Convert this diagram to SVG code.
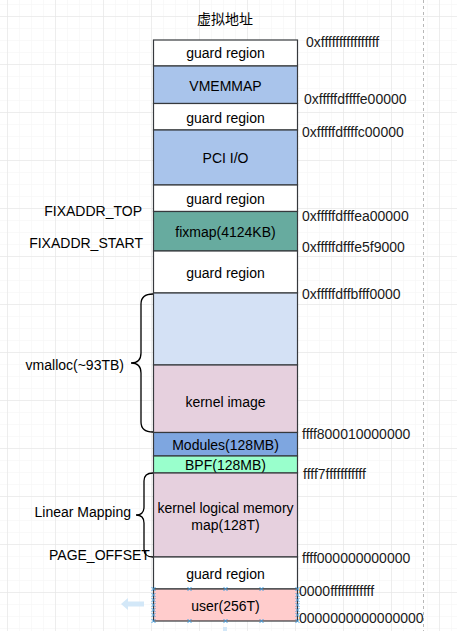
<svg xmlns="http://www.w3.org/2000/svg" width="457" height="631" viewBox="0 0 457 631">
<style>
.box{stroke:#36393d;stroke-width:1.2}
.t{font-family:"Liberation Sans",Arial,sans-serif;font-size:14px;fill:#000}
.c{text-anchor:middle}
.r{text-anchor:end}
.addr{font-family:"Liberation Sans",Arial,sans-serif;font-size:14px;fill:#1a1a1a}
.brace{fill:none;stroke:#000;stroke-width:1.3}
.sel{stroke:#3aa0e8;stroke-width:1;fill:none}
</style>
<defs>
<pattern id="gMinor" width="12" height="12" x="7" y="4" patternUnits="userSpaceOnUse">
<path d="M0,0 H12 M0,0 V12" stroke="#f3f3f3" stroke-width="1" fill="none"/>
</pattern>
<pattern id="gMajor" width="48" height="48" x="7" y="16" patternUnits="userSpaceOnUse">
<path d="M0,0 H48 M0,0 V48" stroke="#e2e2e2" stroke-width="1" fill="none"/>
</pattern>
<g id="xm"><path d="M-2,-2 L2,2 M-2,2 L2,-2" class="sel"/></g>
</defs>
<rect width="457" height="631" fill="#ffffff"/>
<rect width="457" height="631" fill="url(#gMinor)"/>
<rect width="457" height="631" fill="url(#gMajor)"/>
<line x1="423.5" y1="0" x2="423.5" y2="631" stroke="#b8b8b8" stroke-dasharray="3 3"/>

<text class="t c" x="225" y="24" style="font-family:'Liberation Sans','Noto Sans CJK SC',sans-serif">虚拟地址</text>

<g id="n-guard1"><rect class="box" x="153.5" y="40" width="144" height="26" fill="#ffffff"/><text class="t c" x="225.5" y="58">guard region</text></g>
<g id="n-vmemmap"><rect class="box" x="153.5" y="66" width="144" height="37.5" fill="#a9c4eb"/><text class="t c" x="225.5" y="91">VMEMMAP</text></g>
<g id="n-guard2"><rect class="box" x="153.5" y="103.5" width="144" height="26.5" fill="#ffffff"/><text class="t c" x="225.5" y="123">guard region</text></g>
<g id="n-pci"><rect class="box" x="153.5" y="130" width="144" height="55" fill="#a9c4eb"/><text class="t c" x="225.5" y="163">PCI I/O</text></g>
<g id="n-guard3"><rect class="box" x="153.5" y="185" width="144" height="26.5" fill="#ffffff"/><text class="t c" x="225.5" y="204">guard region</text></g>
<g id="n-fixmap"><rect class="box" x="153.5" y="211.5" width="144" height="39.5" fill="#67ab9f"/><text class="t c" x="225.5" y="236.5">fixmap(4124KB)</text></g>
<g id="n-guard4"><rect class="box" x="153.5" y="251" width="144" height="42" fill="#ffffff"/><text class="t c" x="225.5" y="278">guard region</text></g>
<g id="n-vmalloc"><rect class="box" x="153.5" y="293" width="144" height="72" fill="#d4e1f5"/></g>
<g id="n-kimage"><rect class="box" x="153.5" y="365" width="144" height="67.5" fill="#e6d0de"/><text class="t c" x="225.5" y="407">kernel image</text></g>
<g id="n-modules"><rect class="box" x="153.5" y="432.5" width="144" height="23.5" fill="#7ea6e0"/><text class="t c" x="225.5" y="450">Modules(128MB)</text></g>
<g id="n-bpf"><rect class="box" x="153.5" y="456" width="144" height="17" fill="#99ffcc"/><text class="t c" x="225.5" y="470">BPF(128MB)</text></g>
<g id="n-linear"><rect class="box" x="153.5" y="473" width="144" height="84" fill="#e6d0de"/><text class="t c" x="225.5" y="512.5">kernel logical memory</text><text class="t c" x="225.5" y="530">map(128T)</text></g>
<g id="n-guard5"><rect class="box" x="153.5" y="557" width="144" height="32" fill="#ffffff"/><text class="t c" x="225.5" y="579">guard region</text></g>
<g id="n-user"><rect class="box" x="153.5" y="589" width="144" height="32" fill="#ffcccc"/><text class="t c" x="225.5" y="611">user(256T)</text></g>

<g id="addresses">
<text class="addr" x="306" y="47">0xffffffffffffffff</text>
<text class="addr" x="304" y="104" fill="#555">0xfffffdffffe00000</text>
<text class="addr" x="302" y="136.5">0xfffffdffffc00000</text>
<text class="addr" x="302" y="221">0xfffffdfffea00000</text>
<text class="addr" x="302" y="252">0xfffffdfffe5f9000</text>
<text class="addr" x="302" y="299">0xfffffdffbfff0000</text>
<text class="addr" x="302" y="439">ffff800010000000</text>
<text class="addr" x="303" y="479">ffff7fffffffffff</text>
<text class="addr" x="302" y="563">ffff000000000000</text>
<text class="addr" x="299" y="595.5">0000ffffffffffff</text>
<text class="addr" x="299" y="623">0000000000000000</text>
</g>

<g id="left-labels">
<text class="t r" x="142" y="216">FIXADDR_TOP</text>
<text class="t r" x="143" y="248">FIXADDR_START</text>
<text class="t r" x="124" y="370">vmalloc(~93TB)</text>
<text class="t r" x="131" y="517">Linear Mapping</text>
<text class="t" x="49" y="560">PAGE_OFFSET</text>
</g>

<g id="connectors">
<path class="brace" d="M153,294 Q141,294 141,304 L141,353 Q141,363 131,363 Q141,363 141,373 L141,422 Q141,432 153,432"/>
<path class="brace" d="M153,473 Q144,473 144,481 L144,507 Q144,515 136,515 Q144,515 144,523 L144,549 Q144,557 153,557"/>
</g>

<g id="selection" opacity="0.9">
<path d="M121,604 L128,598 L128,601.5 L144,601.5 L144,606.5 L128,606.5 L128,610 Z" fill="#cfe6f8"/>
<rect x="223" y="627" width="4" height="4" fill="#cfe6f8"/>
<use href="#xm" x="153.5" y="589"/><use href="#xm" x="189.5" y="589"/><use href="#xm" x="225.5" y="589"/><use href="#xm" x="261.5" y="589"/><use href="#xm" x="297.5" y="589"/>
<use href="#xm" x="153.5" y="621"/><use href="#xm" x="189.5" y="621"/><use href="#xm" x="225.5" y="621"/><use href="#xm" x="261.5" y="621"/><use href="#xm" x="297.5" y="621"/>
<use href="#xm" x="153.5" y="595"/><use href="#xm" x="153.5" y="600"/><use href="#xm" x="153.5" y="605"/><use href="#xm" x="153.5" y="610"/><use href="#xm" x="153.5" y="615"/>
<use href="#xm" x="297.5" y="595"/><use href="#xm" x="297.5" y="600"/><use href="#xm" x="297.5" y="605"/><use href="#xm" x="297.5" y="610"/><use href="#xm" x="297.5" y="615"/>
</g>
</svg>
